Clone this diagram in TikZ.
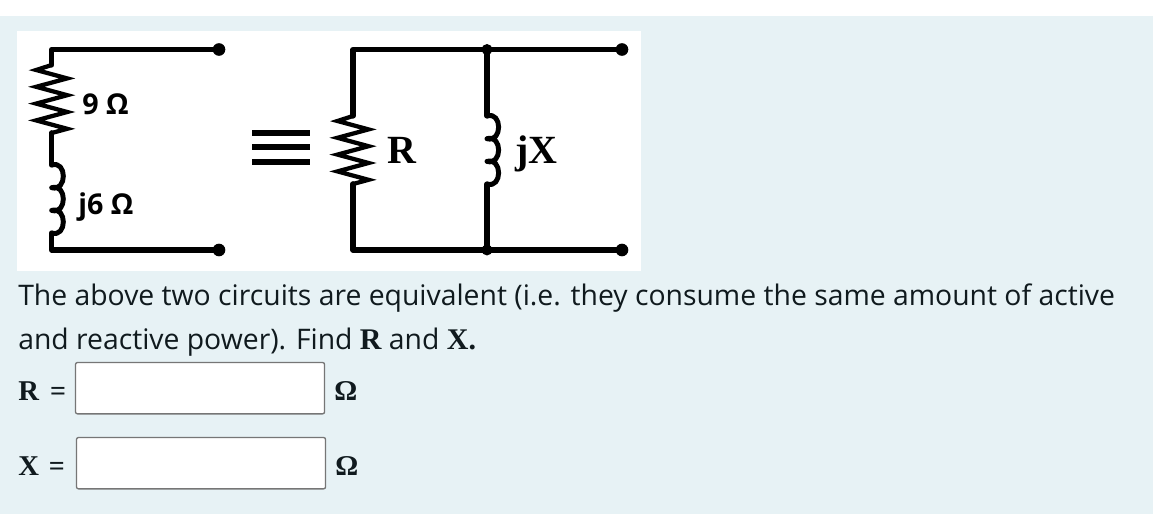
\documentclass[tikz,border=0pt]{standalone}
\usepackage{fontspec}
\setmainfont{Open Sans}
\newfontfamily\serifb{Liberation Serif}
\definecolor{panel}{HTML}{E7F2F5}
\definecolor{ink}{HTML}{101A1E}
\definecolor{boxline}{HTML}{767676}
\tikzset{
  wire/.style={line width=3.9pt,line join=round,line cap=round,black},
  zig/.style={line width=3.2pt,line join=miter,miter limit=12,black},
  coil/.style={line width=3.7pt,line join=round,black},
  terminal/.style={circle,fill=black,inner sep=0pt,minimum size=9.5pt},
  junction/.style={circle,fill=black,inner sep=0pt,minimum size=8.2pt},
  ohmlabel/.style={anchor=base west,inner sep=0pt,font=\fontsize{21.5}{26}\selectfont\bfseries,text=black},
  serlabel/.style={anchor=base west,inner sep=0pt,font=\fontsize{30}{36}\selectfont\serifb\bfseries,text=black},
  para/.style={anchor=base west,inner sep=0pt,font=\fontsize{21.25}{25}\selectfont,text=ink},
  formlabel/.style={anchor=base west,inner sep=0pt,font=\fontsize{21.5}{26}\selectfont\serifb\bfseries,text=ink},
  entry/.style={draw=boxline,line width=1pt,fill=white,rounded corners=1.5pt,anchor=north west,inner sep=0pt,outer sep=0pt,minimum width=186.8pt,minimum height=38.5pt},
  bar/.style={fill=black,draw=none,inner sep=0pt,minimum width=43.5pt,minimum height=4.4pt}
}
% resistor: start on the wire, four full swings, back to the wire
\newcommand{\zigpath}{-- ++(-15.5,5) -- ++(31,8.4) -- ++(-31,8.4) -- ++(31,8.4) -- ++(-31,8.4) -- ++(31,8.4) -- ++(-31,8.4) -- ++(31,8.4) -- ++(-15.5,4.2)}
% inductor: three bumps, each 22.7 tall
\newcommand{\coilpath}{.. controls (15.5,-5) and (15.5,27) .. (0,22.7) .. controls (15.5,18) and (15.5,50) .. (0,45.4) .. controls (15.5,41) and (15.5,73) .. (0,68)}
\begin{document}
\begin{tikzpicture}[x=0.75pt,y=-0.75pt]
\useasboundingbox (0,0) rectangle (1153,514);
\fill[white] (0,0) rectangle (1153,514);
\fill[panel] (0,16) rectangle (1153,514);
\fill[white] (17,31) rectangle (641,271);
% left circuit
\node[terminal] (t1) at (219,49.5) {};
\node[terminal] (b1) at (219,250) {};
\coordinate (c1) at (51.7,49.5);
\coordinate (c2) at (51.7,250);
\coordinate (r1) at (51.7,65);
\coordinate (r2) at (51.7,132.8);
\coordinate (l1) at (51.7,165);
\coordinate (l2) at (51.7,233);
\draw[wire] (t1.center) -- (c1) -- (r1);
\draw[zig] (r1) \zigpath;
\draw[wire] (r2) -- (l1);
\draw[coil,shift={(l1)}] (0,0) \coilpath;
\draw[wire] (l2) -- (c2) -- (b1.center);
\node[ohmlabel] (nine) at (82,114) {9 Ω};
\node[ohmlabel] (j6) at (78,214) {j6 Ω};
% equivalence
\node[bar] (e1) at (281,133) {};
\node[bar] (e2) at (281,147) {};
\node[bar] (e3) at (281,162) {};
% right circuit
\node[terminal] (t2) at (622,49.5) {};
\node[terminal] (b2) at (622,250) {};
\node[junction] (j1) at (487,49.5) {};
\node[junction] (j2) at (487,250) {};
\coordinate (c3) at (353,49.5);
\coordinate (c4) at (353,250);
\coordinate (r3) at (353,116);
\coordinate (r4) at (353,183.8);
\coordinate (l3) at (487,116);
\coordinate (l4) at (487,184);
\draw[wire] (t2.center) -- (c3) -- (r3);
\draw[zig] (r3) \zigpath;
\draw[wire] (r4) -- (c4) -- (b2.center);
\draw[wire] (j1.center) -- (l3);
\draw[coil,shift={(l3)}] (0,0) \coilpath;
\draw[wire] (l4) -- (j2.center);
\node[serlabel] (rl) at (387,163) {R};
\node[serlabel] (xl) at (515,163) {jX};
% text
\node[para] (line1) at (18,305) {The above two circuits are equivalent (i.e. they consume the same amount of active};
\node[para] (line2) at (18,349.5) {and reactive power). Find {\serifb\bfseries\fontsize{22.5}{25}\selectfont R} and {\serifb\bfseries\fontsize{22.5}{25}\selectfont X.}};
\node[formlabel] (rq) at (18,400) {R \hspace{3pt}{\fontsize{21}{24}\selectfont =}};
\node[formlabel] (xq) at (18,475) {X \hspace{2pt}{\fontsize{21}{24}\selectfont =}};
\node[entry] (rbox) at (75.5,362.5) {};
\node[entry] (xbox) at (76.5,437.5) {};
\node[formlabel] (ro) at (334,400) {Ω};
\node[formlabel] (xo) at (335,475) {Ω};
\end{tikzpicture}
\end{document}
